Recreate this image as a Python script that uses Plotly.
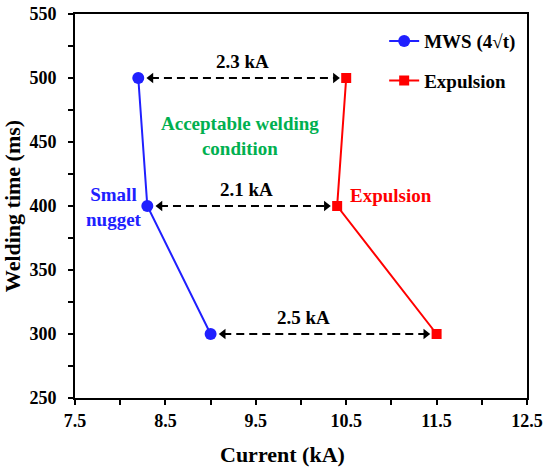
import plotly.graph_objects as go

# welding time (ms) and lobe boundaries (kA)
welding_time = [300, 400, 500]
mws_current = [9.0, 8.3, 8.2]
expulsion_current = [11.5, 10.4, 10.5]

x_ticks = [7.5, 8.5, 9.5, 10.5, 11.5, 12.5]
y_ticks = [250, 300, 350, 400, 450, 500, 550]

FONT = "Liberation Serif, Times New Roman, serif"
BLUE = "#2020ff"
RED = "#ff0000"
GREEN = "#00b050"

fig = go.Figure()

fig.add_trace(go.Scatter(
    x=mws_current, y=welding_time, mode="lines+markers", name="MWS (4\u221at)",
    line=dict(color=BLUE, width=2), marker=dict(symbol="circle", size=12, color=BLUE),
    legendgroup="mws"))
fig.add_trace(go.Scatter(
    x=expulsion_current, y=welding_time, mode="lines+markers", name="Expulsion",
    line=dict(color=RED, width=2), marker=dict(symbol="square", size=10, color=RED),
    legendgroup="exp"))

# dashed double arrows showing the width of the welding lobe
label_shift = {300: -20, 400: 4, 500: 0}
for t, lo, hi in zip(welding_time, mws_current, expulsion_current):
    fig.add_trace(go.Scatter(
        x=[lo + 0.14, hi - 0.12], y=[t, t], mode="lines+markers", showlegend=False,
        line=dict(color="black", width=2, dash="8px,5px"),
        marker=dict(symbol=["triangle-left", "triangle-right"], size=9, color="black"),
        hoverinfo="skip"))
    fig.add_annotation(x=(lo + hi) / 2, y=t, text=f"{hi - lo:.1f} kA", showarrow=False,
                       yshift=17, xshift=label_shift[t],
                       font=dict(family=FONT, size=19, color="black", weight="bold"))

fig.add_annotation(x=9.33, y=455, text="Acceptable welding<br>condition", showarrow=False,
                   font=dict(family=FONT, size=19, color=GREEN, weight="bold"))
fig.add_annotation(x=7.93, y=399, text="Small<br>nugget", showarrow=False,
                   font=dict(family=FONT, size=19, color=BLUE, weight="bold"))
fig.add_annotation(x=11.0, y=408, text="Expulsion", showarrow=False,
                   font=dict(family=FONT, size=19, color=RED, weight="bold"))

# x axis title, set slightly left of centre as in the source figure
fig.add_annotation(x=0.46, y=-0.147, xref="paper", yref="paper", yanchor="middle",
                   text="Current (kA)", showarrow=False,
                   font=dict(family=FONT, size=22, color="black", weight="bold"))

axis_common = dict(
    showline=True, linecolor="black", linewidth=2, mirror=True,
    ticks="outside", ticklen=5, tickwidth=2, tickcolor="black",
    showgrid=False, zeroline=False, automargin=False, ticklabeloverflow="allow",
    tickfont=dict(family=FONT, size=18, color="black", weight="bold"),
)

fig.update_xaxes(
    range=[7.5, 12.5], tickvals=x_ticks, ticktext=[f"{v:.1f}" for v in x_ticks],
    minor=dict(dtick=0.5, tick0=7.5, ticks="outside", ticklen=5, tickwidth=2, tickcolor="black"),
    **axis_common)
fig.update_yaxes(
    range=[250, 550], tickvals=y_ticks, ticklabelstandoff=8,
    minor=dict(dtick=25, tick0=250, ticks="outside", ticklen=5, tickwidth=2, tickcolor="black"),
    title=dict(text="Welding time (ms)", standoff=4,
               font=dict(family=FONT, size=22, color="black", weight="bold")),
    **axis_common)

fig.update_layout(
    width=550, height=473,
    margin=dict(l=75, r=23, t=14, b=75),
    plot_bgcolor="white", paper_bgcolor="white",
    legend=dict(x=0.684, y=0.979, xanchor="left", yanchor="top",
                bgcolor="rgba(0,0,0,0)", tracegroupgap=12, traceorder="grouped",
                font=dict(family=FONT, size=19, color="black", weight="bold")),
)

# drop the default 8px body margin so the figure fills the window
fig.write_html("out.html", config={"displayModeBar": False},
               post_script="document.body.style.margin = '0';")
